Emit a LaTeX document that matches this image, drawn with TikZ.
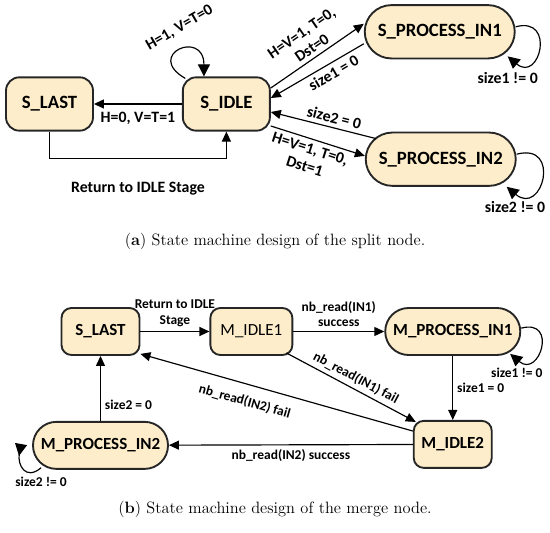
\documentclass[tikz,border=0pt]{standalone}
\usepackage{fontspec}
\newfontfamily\calib{Carlito}
\usetikzlibrary{positioning,arrows.meta}
\definecolor{boxfill}{RGB}{253,237,202}
\definecolor{boxline}{RGB}{38,38,38}

\begin{document}
\begin{tikzpicture}[node distance=20mm, line width=1pt,
    box/.style = {draw=boxline, line width=1.6pt, fill=boxfill, rounded corners=4mm, minimum width=26.1mm, minimum height=16mm, font=\calib\bfseries\fontsize{16}{19}\selectfont},
    pill/.style = {box, rounded corners=8mm, minimum width=45mm},
    mbox/.style = {box, rounded corners=3mm, minimum width=23.4mm, minimum height=14.1mm, font=\calib\bfseries\fontsize{14.5}{17}\selectfont},
    mpill/.style = {mbox, rounded corners=7mm, minimum width=40.5mm},
    arr/.style = {-{Triangle[length=3mm,width=2.7mm]}},
    looparr/.style = {-{Triangle[length=3.6mm,width=3.6mm]}},
    lbl/.style = {font=\calib\bfseries\fontsize{13.5}{15.5}\selectfont, align=center},
    mlbl/.style = {font=\calib\bfseries\fontsize{11.5}{13.5}\selectfont, align=center},
    captxt/.style = {font=\fontsize{14}{16}\selectfont}]
    \useasboundingbox (0,0) rectangle (165mm,159.9mm);

    % split node
    \node[box] (last) at (14.85mm,128.7mm) {S\_LAST};
    \node[box] (idle) [right=26.4mm of last] {S\_IDLE};
    \node[pill] (in1) [above right=5.1mm and 27.9mm of idle] {S\_PROCESS\_IN1};
    \node[pill] (in2) [below right=0mm and 28.2mm of idle] {S\_PROCESS\_IN2};

    \draw[arr] (idle) -- node[lbl, below=1mm] {H=0, V=T=1} (last);
    \draw[arr] (last.south) -- ++(0,-8.1mm) -| node[lbl, pos=0.25, below=5.7mm] {Return to IDLE Stage} (idle.south);
    \draw[looparr] ([xshift=1mm,yshift=-0.6mm]idle.north west) to [out=150, in=90, looseness=6.5] node[lbl, rotate=30, above=3mm, xshift=2mm] {H=1, V=T=0} ([xshift=6.6mm]idle.north west);

    \draw[arr] ([yshift=4.8mm]idle.east) -- node[lbl, sloped, above] {H=V=1, T=0,\\Dst=0} ([yshift=2.4mm]in1.west);
    \draw[arr] ([yshift=-3.6mm]in1.west) -- node[lbl, sloped, below, pos=0.38] {size1 = 0} ([yshift=1.8mm]idle.east);
    \draw[arr] ([xshift=3.3mm,yshift=6.2mm]in2.west) -- node[lbl, sloped, above, pos=0.42] {size2 = 0} ([yshift=-2.4mm]idle.east);
    \draw[arr] ([yshift=-6.6mm]idle.east) -- node[lbl, sloped, below, pos=0.45] {H=V=1, T=0,\\Dst=1} ([yshift=1mm]in2.west);

    \draw[looparr] ([yshift=1.5mm]in1.east) to [out=15, in=-40, looseness=3.5] node[lbl, pos=1, below=3.5mm] {size1 != 0} ([xshift=-2.4mm,yshift=0.9mm]in1.south east);
    \draw[looparr] ([yshift=1.5mm]in2.east) to [out=15, in=-40, looseness=3.5] node[lbl, pos=1, below=3mm, xshift=2.5mm] {size2 != 0} ([xshift=-3mm]in2.south east);

    \node[captxt] (capa) at (82.5mm,87.6mm) {(\textbf{a}) State machine design of the split node.};

    % merge node
    \node[mbox] (mlast) at (30.15mm,60.45mm) {S\_LAST};
    \node[mbox, minimum width=24.6mm, font=\calib\fontsize{14.5}{17}\selectfont] (midle1) [right=20.7mm of mlast] {M\_IDLE1};
    \node[mpill] (min1) [right=27.3mm of midle1] {M\_PROCESS\_IN1};
    \node[mbox] (midle2) [below=19.2mm of min1] {M\_IDLE2};
    \node[mpill] (min2) [below=19.5mm of mlast] {M\_PROCESS\_IN2};

    \draw[arr] (mlast) -- node[mlbl, above] {Return to IDLE\\Stage} (midle1);
    \draw[arr] (midle1) -- node[mlbl, above] {nb\_read(IN1)\\success} (min1);
    \draw[arr] ([xshift=-2.1mm,yshift=0.9mm]midle1.south east) -- node[mlbl, sloped, above] {nb\_read(IN1) fail} ([xshift=0.9mm,yshift=-0.6mm]midle2.north west);
    \draw[arr] ([yshift=4mm]midle2.west) -- node[mlbl, sloped, below=2mm, pos=0.6] {nb\_read(IN2) fail} ([yshift=0.6mm]mlast.south east);
    \draw[arr] (min1) -- node[mlbl, right] {size1 = 0} (midle2);
    \draw[arr] (midle2) -- node[mlbl, below] {nb\_read(IN2) success} (min2);
    \draw[arr] (min2) -- node[mlbl, right, pos=0.25] {size2 = 0} (mlast);

    \draw[looparr] ([yshift=1mm]min1.east) to [out=15, in=-40, looseness=3.5] node[mlbl, pos=1, below=3mm, xshift=2mm] {size1 != 0} ([xshift=-3.3mm,yshift=0.6mm]min1.south east);
    \draw[{Triangle[reversed,length=3.6mm,width=3.6mm]}-] ([xshift=-3.3mm,yshift=0.4mm]min2.west) to [out=260, in=220, looseness=1.7] node[mlbl, pos=1, below=1.5mm] {size2 != 0} ([xshift=2.7mm,yshift=0.6mm]min2.south west);

    \node[captxt] (capb) at (82.5mm,7.2mm) {(\textbf{b}) State machine design of the merge node.};
\end{tikzpicture}
\end{document}
